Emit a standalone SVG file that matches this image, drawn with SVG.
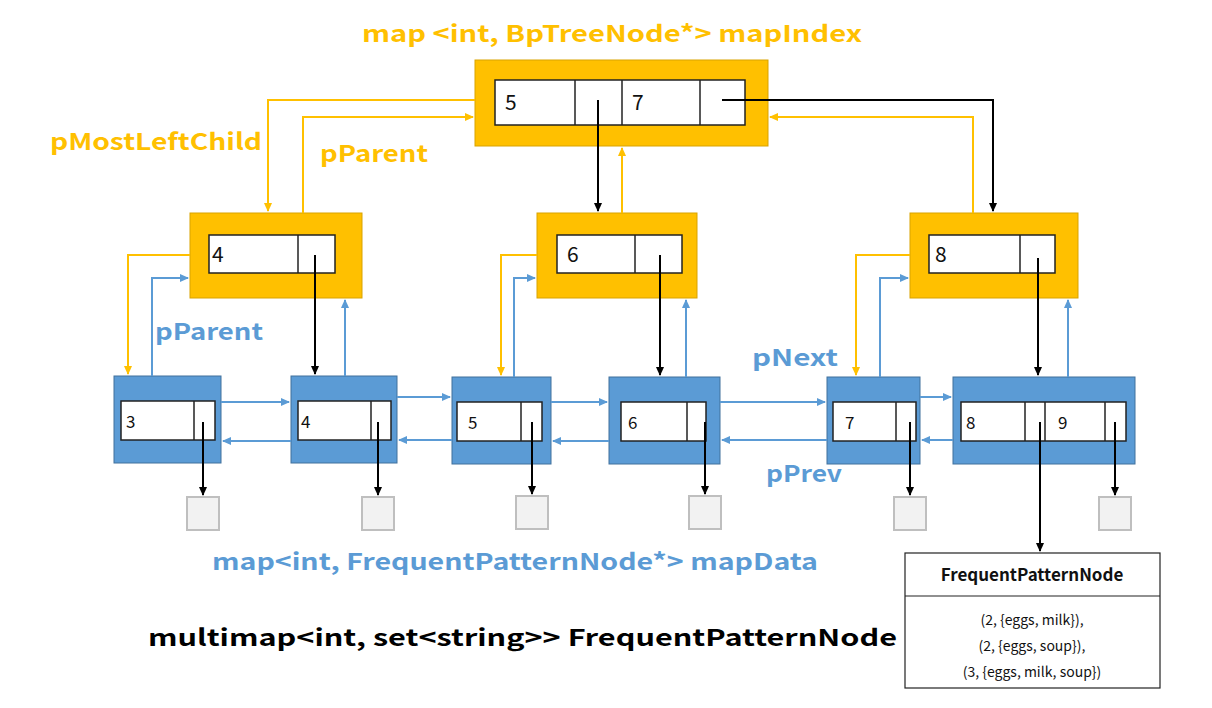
<svg xmlns="http://www.w3.org/2000/svg" width="1212" height="708" viewBox="0 0 1212 708">
<defs>
<marker id="ab" markerWidth="10" markerHeight="10" refX="8" refY="5" orient="auto" markerUnits="userSpaceOnUse"><path d="M0,1 L9,5 L0,9 Z" fill="#000"/></marker>
<marker id="ao" markerWidth="10" markerHeight="10" refX="8" refY="5" orient="auto" markerUnits="userSpaceOnUse"><path d="M0,1 L9,5 L0,9 Z" fill="#ffc000"/></marker>
<marker id="au" markerWidth="10" markerHeight="10" refX="8" refY="5" orient="auto" markerUnits="userSpaceOnUse"><path d="M0,1 L9,5 L0,9 Z" fill="#5b9bd5"/></marker>
</defs>
<style>
.o{fill:#ffc000;stroke:#d9a300;stroke-width:1}
.b{fill:#5b9bd5;stroke:#41719c;stroke-width:1}
.w{fill:#fff;stroke:#222;stroke-width:1.5}
.d{stroke:#222;stroke-width:1.5}
.g{fill:#f2f2f2;stroke:#bfbfbf;stroke-width:2}
.t{font-family:"Noto Sans CJK KR","Noto Sans",sans-serif;fill:#111}
.lb{font-family:"Noto Sans CJK KR","Noto Sans",sans-serif;font-weight:bold;font-size:23px}
.k{stroke:#000;stroke-width:2;fill:none;marker-end:url(#ab)}
.ko{stroke:#ffc000;stroke-width:2;fill:none;marker-end:url(#ao)}
.ku{stroke:#5b9bd5;stroke-width:2;fill:none;marker-end:url(#au)}
</style>
<rect width="1212" height="708" fill="#fff"/>
<g id="root"><rect class="o" x="475" y="60" width="293" height="86"/><rect class="w" x="495" y="80" width="250" height="45"/><line class="d" x1="575" y1="80" x2="575" y2="125"/><line class="d" x1="622" y1="80" x2="622" y2="125"/><line class="d" x1="700" y1="80" x2="700" y2="125"/><text class="t" x="505" y="110" font-size="21">5</text><text class="t" x="632" y="110" font-size="21">7</text></g>
<g id="int4"><rect class="o" x="190" y="213" width="172" height="85"/><rect class="w" x="209" y="235" width="126" height="38"/><line class="d" x1="298" y1="235" x2="298" y2="273"/><text class="t" x="212" y="262" font-size="21">4</text></g>
<g id="int6"><rect class="o" x="537" y="213" width="160" height="85"/><rect class="w" x="557" y="235" width="125" height="38"/><line class="d" x1="635" y1="235" x2="635" y2="273"/><text class="t" x="567" y="262" font-size="21">6</text></g>
<g id="int8"><rect class="o" x="910" y="213" width="168" height="85"/><rect class="w" x="929" y="235" width="126" height="38"/><line class="d" x1="1020" y1="235" x2="1020" y2="273"/><text class="t" x="935" y="262" font-size="21">8</text></g>
<g id="leaf3"><rect class="b" x="114" y="376" width="107" height="87"/><rect class="w" x="121" y="401" width="94" height="39"/><line class="d" x1="194" y1="401" x2="194" y2="440"/><text class="t" x="126" y="428" font-size="17">3</text></g>
<g id="leaf4"><rect class="b" x="291" y="376" width="106" height="87"/><rect class="w" x="298" y="401" width="93" height="39"/><line class="d" x1="371" y1="401" x2="371" y2="440"/><text class="t" x="301" y="428" font-size="17">4</text></g>
<g id="leaf5"><rect class="b" x="452" y="377" width="99" height="87"/><rect class="w" x="457" y="402" width="85" height="39"/><line class="d" x1="521" y1="402" x2="521" y2="441"/><text class="t" x="468" y="429" font-size="17">5</text></g>
<g id="leaf6"><rect class="b" x="609" y="377" width="111" height="87"/><rect class="w" x="621" y="402" width="85" height="39"/><line class="d" x1="687" y1="402" x2="687" y2="441"/><text class="t" x="628" y="429" font-size="17">6</text></g>
<g id="leaf7"><rect class="b" x="827" y="377" width="93" height="87"/><rect class="w" x="833" y="402" width="83" height="39"/><line class="d" x1="896" y1="402" x2="896" y2="441"/><text class="t" x="845" y="429" font-size="17">7</text></g>
<g id="leaf89"><rect class="b" x="953" y="377" width="182" height="87"/><rect class="w" x="961" y="402" width="165" height="39"/><line class="d" x1="1025" y1="402" x2="1025" y2="441"/><line class="d" x1="1045" y1="402" x2="1045" y2="441"/><line class="d" x1="1105" y1="402" x2="1105" y2="441"/><text class="t" x="966" y="429" font-size="17">8</text><text class="t" x="1058" y="429" font-size="17">9</text></g>
<g id="sets"><rect class="g" x="187" y="497" width="32" height="33"/><rect class="g" x="362" y="497" width="32" height="33"/><rect class="g" x="516" y="496" width="32" height="33"/><rect class="g" x="689" y="496" width="32" height="33"/><rect class="g" x="894" y="497" width="32" height="33"/><rect class="g" x="1099" y="497" width="32" height="33"/></g>
<g id="fpn"><rect x="905" y="553" width="255" height="135" fill="#fff" stroke="#222" stroke-width="1.2"/><line x1="905" y1="596" x2="1160" y2="596" stroke="#222" stroke-width="1.2"/><text class="t" x="1032" y="581" font-size="17" font-weight="bold" text-anchor="middle">FrequentPatternNode</text><g class="t" font-size="14" text-anchor="middle" xml:space="preserve"><text x="1032" y="625">(2,  {eggs,  milk}),</text><text x="1032" y="651">(2,  {eggs,  soup}),</text><text x="1032" y="677">(3,  {eggs,  milk,  soup})</text></g></g>
<g id="connectors">
<polyline class="ko" points="475,100 268,100 268,211"/>
<polyline class="ko" points="303,213 303,117 473,117"/>
<polyline class="k" points="598,100 598,211"/>
<polyline class="ko" points="622,213 622,148"/>
<polyline class="k" points="722,100 993,100 993,211"/>
<polyline class="ko" points="973,213 973,117 770,117"/>
<polyline class="ko" points="190,255 128,255 128,374"/>
<polyline class="ku" points="152,376 152,278 188,278"/>
<polyline class="k" points="315,255 315,374"/>
<polyline class="ku" points="345,376 345,300"/>
<polyline class="ko" points="537,255 501,255 501,375"/>
<polyline class="ku" points="514,377 514,278 535,278"/>
<polyline class="k" points="660,255 660,375"/>
<polyline class="ku" points="686,377 686,300"/>
<polyline class="ko" points="910,255 856,255 856,375"/>
<polyline class="ku" points="880,377 880,278 908,278"/>
<polyline class="k" points="1038,258 1038,375"/>
<polyline class="ku" points="1068,377 1068,300"/>
<line class="ku" x1="221" y1="402" x2="289" y2="402"/><line class="ku" x1="397" y1="397" x2="450" y2="397"/><line class="ku" x1="551" y1="402" x2="607" y2="402"/><line class="ku" x1="720" y1="402" x2="825" y2="402"/><line class="ku" x1="920" y1="397" x2="951" y2="397"/>
<line class="ku" x1="291" y1="441" x2="223" y2="441"/><line class="ku" x1="452" y1="440" x2="399" y2="440"/><line class="ku" x1="609" y1="441" x2="553" y2="441"/><line class="ku" x1="827" y1="440" x2="722" y2="440"/><line class="ku" x1="953" y1="440" x2="922" y2="440"/>
<line class="k" x1="203" y1="422" x2="203" y2="495"/><line class="k" x1="378" y1="422" x2="378" y2="495"/><line class="k" x1="532" y1="422" x2="532" y2="494"/><line class="k" x1="705" y1="422" x2="705" y2="494"/><line class="k" x1="910" y1="422" x2="910" y2="495"/><line class="k" x1="1115" y1="422" x2="1115" y2="495"/><line class="k" x1="1040" y1="422" x2="1040" y2="551"/>
</g>
<g id="labels" xml:space="preserve">
<text class="lb" x="362" y="42" fill="#ffc000" textLength="500" lengthAdjust="spacingAndGlyphs">map  &lt;int,  BpTreeNode*&gt;  mapIndex</text>
<text class="lb" x="50" y="150" fill="#ffc000" textLength="212" lengthAdjust="spacingAndGlyphs">pMostLeftChild</text>
<text class="lb" x="320" y="162" fill="#ffc000" textLength="108" lengthAdjust="spacingAndGlyphs">pParent</text>
<text class="lb" x="155" y="340" fill="#5b9bd5" textLength="108" lengthAdjust="spacingAndGlyphs">pParent</text>
<text class="lb" x="752" y="366" fill="#5b9bd5" textLength="86" lengthAdjust="spacingAndGlyphs">pNext</text>
<text class="lb" x="766" y="482" fill="#5b9bd5" textLength="76" lengthAdjust="spacingAndGlyphs">pPrev</text>
<text class="lb" x="212" y="570" fill="#5b9bd5" textLength="606" lengthAdjust="spacingAndGlyphs">map&lt;int,  FrequentPatternNode*&gt;  mapData</text>
<text class="lb" x="148" y="646" fill="#000" textLength="749" lengthAdjust="spacingAndGlyphs">multimap&lt;int,  set&lt;string&gt;&gt;  FrequentPatternNode</text>
</g>
</svg>
